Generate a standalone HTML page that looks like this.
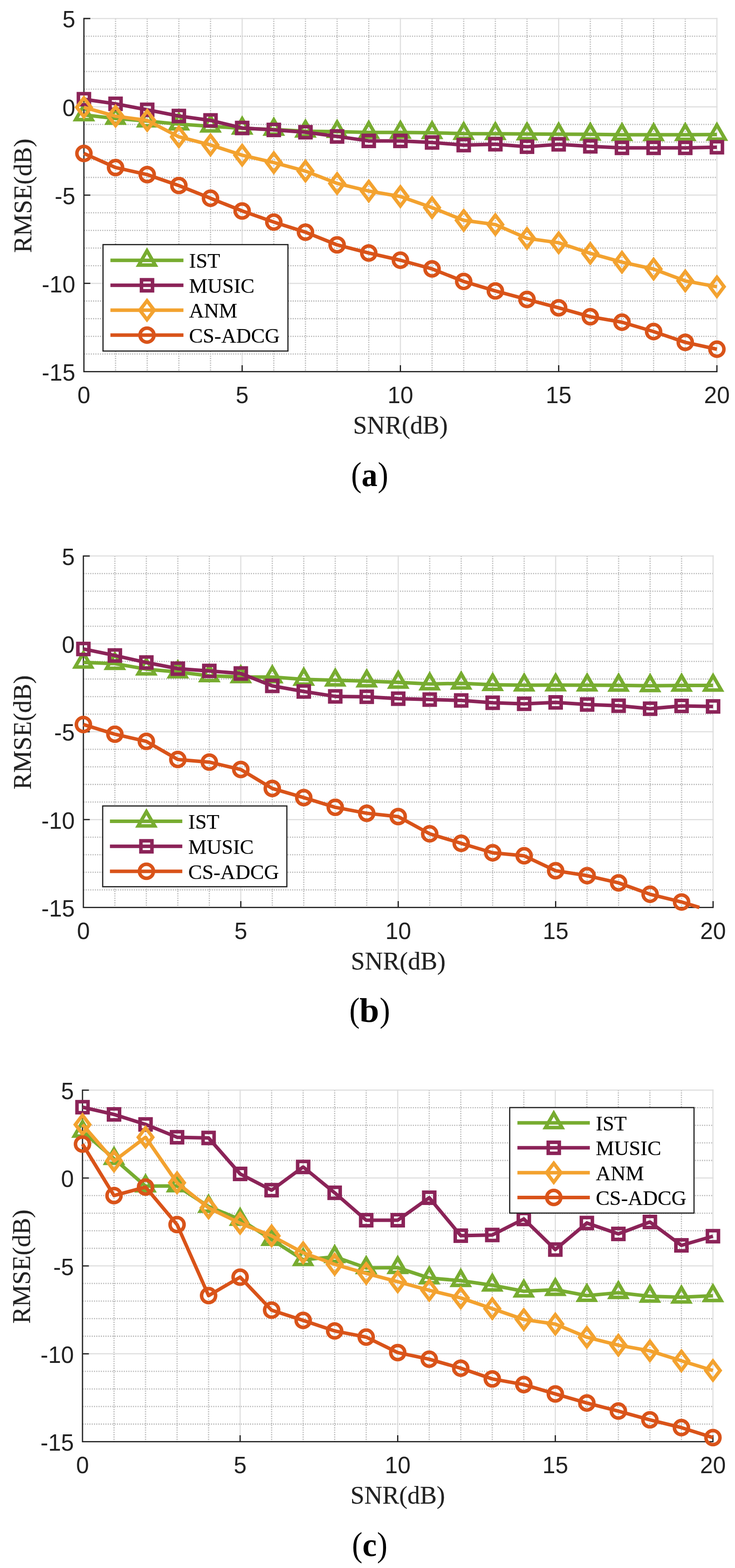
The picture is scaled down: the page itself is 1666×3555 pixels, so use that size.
<!DOCTYPE html>
<html lang="en"><head><meta charset="utf-8"><title>RMSE versus SNR</title>
<style>html,body{margin:0;padding:0;background:#fff}svg{display:block}.t{font-family:"Liberation Sans", sans-serif;font-size:52.5px;fill:#222222}.l{font-family:"Liberation Serif", serif;font-size:56.8px;fill:#222222;stroke:#222;stroke-width:.25px}.g{font-family:"Liberation Serif", serif;font-size:46.8px;fill:#000;stroke:#000;stroke-width:.2px}.c{font-family:"Liberation Serif", serif;font-size:80px;fill:#000}</style></head><body>
<svg width="1666" height="3555" viewBox="0 0 1666 3555">
<rect width="1666" height="3555" fill="#fff"/>
<g id="plot-a">
<path d="M261.94 42V842.6M333.68 42V842.6M405.42 42V842.6M477.16 42V842.6M620.64 42V842.6M692.38 42V842.6M764.12 42V842.6M835.86 42V842.6M979.34 42V842.6M1051.08 42V842.6M1122.82 42V842.6M1194.56 42V842.6M1338.04 42V842.6M1409.78 42V842.6M1481.52 42V842.6M1553.26 42V842.6M190.2 802.57H1625M190.2 762.54H1625M190.2 722.51H1625M190.2 682.48H1625M190.2 602.42H1625M190.2 562.39H1625M190.2 522.36H1625M190.2 482.33H1625M190.2 402.27H1625M190.2 362.24H1625M190.2 322.21H1625M190.2 282.18H1625M190.2 202.12H1625M190.2 162.09H1625M190.2 122.06H1625M190.2 82.03H1625" fill="none" stroke="#B8B8B8" stroke-width="2.8" stroke-dasharray="2.4 2.8"/>
<path d="M548.9 40.5V842.6M907.6 40.5V842.6M1266.3 40.5V842.6M1625 40.5V842.6M190.2 42H1626.5M190.2 242.15H1626.5M190.2 442.3H1626.5M190.2 642.45H1626.5" fill="none" stroke="#DEDEDE" stroke-width="2.5"/>
<path d="M190.2 40.6V842.6H1626.4M190.2 842.6V828.1M548.9 842.6V828.1M907.6 842.6V828.1M1266.3 842.6V828.1M1625 842.6V828.1M190.2 42H204.7M190.2 242.15H204.7M190.2 442.3H204.7M190.2 642.45H204.7M190.2 842.6H204.7" fill="none" stroke="#222222" stroke-width="2.8" stroke-linejoin="miter"/>
<text class="t" transform="translate(190.2 914.1) scale(1 1.015)" text-anchor="middle">0</text>
<text class="t" transform="translate(548.9 914.1) scale(1 1.015)" text-anchor="middle">5</text>
<text class="t" transform="translate(907.6 914.1) scale(1 1.015)" text-anchor="middle">10</text>
<text class="t" transform="translate(1266.3 914.1) scale(1 1.015)" text-anchor="middle">15</text>
<text class="t" transform="translate(1625 914.1) scale(1 1.015)" text-anchor="middle">20</text>
<text class="t" transform="translate(170.7 62.4) scale(1 1.015)" text-anchor="end">5</text>
<text class="t" transform="translate(170.7 262.55) scale(1 1.015)" text-anchor="end">0</text>
<text class="t" transform="translate(170.7 462.7) scale(1 1.015)" text-anchor="end">-5</text>
<text class="t" transform="translate(170.7 662.85) scale(1 1.015)" text-anchor="end">-10</text>
<text class="t" transform="translate(170.7 863) scale(1 1.015)" text-anchor="end">-15</text>
<text class="l" x="907.6" y="983.3" text-anchor="middle">SNR(dB)</text>
<text class="l" transform="translate(70.9 443.8) rotate(-90)" text-anchor="middle">RMSE(dB)</text>
<g>
<polyline points="190.2,260.56 261.94,268.57 333.68,274.57 405.42,281.38 477.16,286.18 548.9,290.99 620.64,293.39 692.38,297.59 764.12,298.39 835.86,300.19 907.6,300.19 979.34,300.99 1051.08,303 1122.82,303.2 1194.56,303.8 1266.3,304.2 1338.04,304.6 1409.78,305.4 1481.52,305.6 1553.26,305.4 1625,305" fill="none" stroke="#77AC30" stroke-width="8" stroke-linejoin="round" stroke-linecap="butt"/>
<path d="M190.2 238.86L208.85 271.16L171.55 271.16Z" fill="none" stroke="#77AC30" stroke-width="8" stroke-linejoin="miter" stroke-miterlimit="10"/>
<path d="M261.94 246.87L280.59 279.17L243.29 279.17Z" fill="none" stroke="#77AC30" stroke-width="8" stroke-linejoin="miter" stroke-miterlimit="10"/>
<path d="M333.68 252.87L352.33 285.17L315.03 285.17Z" fill="none" stroke="#77AC30" stroke-width="8" stroke-linejoin="miter" stroke-miterlimit="10"/>
<path d="M405.42 259.68L424.07 291.98L386.77 291.98Z" fill="none" stroke="#77AC30" stroke-width="8" stroke-linejoin="miter" stroke-miterlimit="10"/>
<path d="M477.16 264.48L495.81 296.78L458.51 296.78Z" fill="none" stroke="#77AC30" stroke-width="8" stroke-linejoin="miter" stroke-miterlimit="10"/>
<path d="M548.9 269.29L567.55 301.59L530.25 301.59Z" fill="none" stroke="#77AC30" stroke-width="8" stroke-linejoin="miter" stroke-miterlimit="10"/>
<path d="M620.64 271.69L639.29 303.99L601.99 303.99Z" fill="none" stroke="#77AC30" stroke-width="8" stroke-linejoin="miter" stroke-miterlimit="10"/>
<path d="M692.38 275.89L711.03 308.19L673.73 308.19Z" fill="none" stroke="#77AC30" stroke-width="8" stroke-linejoin="miter" stroke-miterlimit="10"/>
<path d="M764.12 276.69L782.77 308.99L745.47 308.99Z" fill="none" stroke="#77AC30" stroke-width="8" stroke-linejoin="miter" stroke-miterlimit="10"/>
<path d="M835.86 278.49L854.51 310.79L817.21 310.79Z" fill="none" stroke="#77AC30" stroke-width="8" stroke-linejoin="miter" stroke-miterlimit="10"/>
<path d="M907.6 278.49L926.25 310.79L888.95 310.79Z" fill="none" stroke="#77AC30" stroke-width="8" stroke-linejoin="miter" stroke-miterlimit="10"/>
<path d="M979.34 279.29L997.99 311.59L960.69 311.59Z" fill="none" stroke="#77AC30" stroke-width="8" stroke-linejoin="miter" stroke-miterlimit="10"/>
<path d="M1051.08 281.3L1069.73 313.6L1032.43 313.6Z" fill="none" stroke="#77AC30" stroke-width="8" stroke-linejoin="miter" stroke-miterlimit="10"/>
<path d="M1122.82 281.5L1141.47 313.8L1104.17 313.8Z" fill="none" stroke="#77AC30" stroke-width="8" stroke-linejoin="miter" stroke-miterlimit="10"/>
<path d="M1194.56 282.1L1213.21 314.4L1175.91 314.4Z" fill="none" stroke="#77AC30" stroke-width="8" stroke-linejoin="miter" stroke-miterlimit="10"/>
<path d="M1266.3 282.5L1284.95 314.8L1247.65 314.8Z" fill="none" stroke="#77AC30" stroke-width="8" stroke-linejoin="miter" stroke-miterlimit="10"/>
<path d="M1338.04 282.9L1356.69 315.2L1319.39 315.2Z" fill="none" stroke="#77AC30" stroke-width="8" stroke-linejoin="miter" stroke-miterlimit="10"/>
<path d="M1409.78 283.7L1428.43 316L1391.13 316Z" fill="none" stroke="#77AC30" stroke-width="8" stroke-linejoin="miter" stroke-miterlimit="10"/>
<path d="M1481.52 283.9L1500.17 316.2L1462.87 316.2Z" fill="none" stroke="#77AC30" stroke-width="8" stroke-linejoin="miter" stroke-miterlimit="10"/>
<path d="M1553.26 283.7L1571.91 316L1534.61 316Z" fill="none" stroke="#77AC30" stroke-width="8" stroke-linejoin="miter" stroke-miterlimit="10"/>
<path d="M1625 283.3L1643.65 315.6L1606.35 315.6Z" fill="none" stroke="#77AC30" stroke-width="8" stroke-linejoin="miter" stroke-miterlimit="10"/>
</g>
<g>
<polyline points="190.2,224.94 261.94,235.34 333.68,248.96 405.42,262.97 477.16,272.97 548.9,290.19 620.64,294.59 692.38,299.79 764.12,309.4 835.86,319.41 907.6,319.41 979.34,323.01 1051.08,329.02 1122.82,327.01 1194.56,332.62 1266.3,327.21 1338.04,331.82 1409.78,335.22 1481.52,335.22 1553.26,335.22 1625,333.82" fill="none" stroke="#8B2358" stroke-width="8" stroke-linejoin="round" stroke-linecap="butt"/>
<rect x="177.7" y="212.44" width="25" height="25" fill="none" stroke="#8B2358" stroke-width="8" stroke-linejoin="miter" stroke-miterlimit="10"/>
<rect x="249.44" y="222.84" width="25" height="25" fill="none" stroke="#8B2358" stroke-width="8" stroke-linejoin="miter" stroke-miterlimit="10"/>
<rect x="321.18" y="236.46" width="25" height="25" fill="none" stroke="#8B2358" stroke-width="8" stroke-linejoin="miter" stroke-miterlimit="10"/>
<rect x="392.92" y="250.47" width="25" height="25" fill="none" stroke="#8B2358" stroke-width="8" stroke-linejoin="miter" stroke-miterlimit="10"/>
<rect x="464.66" y="260.47" width="25" height="25" fill="none" stroke="#8B2358" stroke-width="8" stroke-linejoin="miter" stroke-miterlimit="10"/>
<rect x="536.4" y="277.69" width="25" height="25" fill="none" stroke="#8B2358" stroke-width="8" stroke-linejoin="miter" stroke-miterlimit="10"/>
<rect x="608.14" y="282.09" width="25" height="25" fill="none" stroke="#8B2358" stroke-width="8" stroke-linejoin="miter" stroke-miterlimit="10"/>
<rect x="679.88" y="287.29" width="25" height="25" fill="none" stroke="#8B2358" stroke-width="8" stroke-linejoin="miter" stroke-miterlimit="10"/>
<rect x="751.62" y="296.9" width="25" height="25" fill="none" stroke="#8B2358" stroke-width="8" stroke-linejoin="miter" stroke-miterlimit="10"/>
<rect x="823.36" y="306.91" width="25" height="25" fill="none" stroke="#8B2358" stroke-width="8" stroke-linejoin="miter" stroke-miterlimit="10"/>
<rect x="895.1" y="306.91" width="25" height="25" fill="none" stroke="#8B2358" stroke-width="8" stroke-linejoin="miter" stroke-miterlimit="10"/>
<rect x="966.84" y="310.51" width="25" height="25" fill="none" stroke="#8B2358" stroke-width="8" stroke-linejoin="miter" stroke-miterlimit="10"/>
<rect x="1038.58" y="316.52" width="25" height="25" fill="none" stroke="#8B2358" stroke-width="8" stroke-linejoin="miter" stroke-miterlimit="10"/>
<rect x="1110.32" y="314.51" width="25" height="25" fill="none" stroke="#8B2358" stroke-width="8" stroke-linejoin="miter" stroke-miterlimit="10"/>
<rect x="1182.06" y="320.12" width="25" height="25" fill="none" stroke="#8B2358" stroke-width="8" stroke-linejoin="miter" stroke-miterlimit="10"/>
<rect x="1253.8" y="314.71" width="25" height="25" fill="none" stroke="#8B2358" stroke-width="8" stroke-linejoin="miter" stroke-miterlimit="10"/>
<rect x="1325.54" y="319.32" width="25" height="25" fill="none" stroke="#8B2358" stroke-width="8" stroke-linejoin="miter" stroke-miterlimit="10"/>
<rect x="1397.28" y="322.72" width="25" height="25" fill="none" stroke="#8B2358" stroke-width="8" stroke-linejoin="miter" stroke-miterlimit="10"/>
<rect x="1469.02" y="322.72" width="25" height="25" fill="none" stroke="#8B2358" stroke-width="8" stroke-linejoin="miter" stroke-miterlimit="10"/>
<rect x="1540.76" y="322.72" width="25" height="25" fill="none" stroke="#8B2358" stroke-width="8" stroke-linejoin="miter" stroke-miterlimit="10"/>
<rect x="1612.5" y="321.32" width="25" height="25" fill="none" stroke="#8B2358" stroke-width="8" stroke-linejoin="miter" stroke-miterlimit="10"/>
</g>
<g>
<polyline points="190.2,243.35 261.94,263.37 333.68,272.97 405.42,310.2 477.16,328.61 548.9,351.83 620.64,368.64 692.38,387.86 764.12,415.88 835.86,433.09 907.6,445.5 979.34,470.72 1051.08,499.54 1122.82,509.15 1194.56,540.37 1266.3,550.38 1338.04,574.4 1409.78,594.41 1481.52,610.03 1553.26,636.85 1625,650.06" fill="none" stroke="#F3A22F" stroke-width="8" stroke-linejoin="round" stroke-linecap="butt"/>
<path d="M190.2 222.05L206.4 243.35L190.2 264.65L174 243.35Z" fill="none" stroke="#F3A22F" stroke-width="8" stroke-linejoin="miter" stroke-miterlimit="10"/>
<path d="M261.94 242.07L278.14 263.37L261.94 284.67L245.74 263.37Z" fill="none" stroke="#F3A22F" stroke-width="8" stroke-linejoin="miter" stroke-miterlimit="10"/>
<path d="M333.68 251.67L349.88 272.97L333.68 294.27L317.48 272.97Z" fill="none" stroke="#F3A22F" stroke-width="8" stroke-linejoin="miter" stroke-miterlimit="10"/>
<path d="M405.42 288.9L421.62 310.2L405.42 331.5L389.22 310.2Z" fill="none" stroke="#F3A22F" stroke-width="8" stroke-linejoin="miter" stroke-miterlimit="10"/>
<path d="M477.16 307.31L493.36 328.61L477.16 349.91L460.96 328.61Z" fill="none" stroke="#F3A22F" stroke-width="8" stroke-linejoin="miter" stroke-miterlimit="10"/>
<path d="M548.9 330.53L565.1 351.83L548.9 373.13L532.7 351.83Z" fill="none" stroke="#F3A22F" stroke-width="8" stroke-linejoin="miter" stroke-miterlimit="10"/>
<path d="M620.64 347.34L636.84 368.64L620.64 389.94L604.44 368.64Z" fill="none" stroke="#F3A22F" stroke-width="8" stroke-linejoin="miter" stroke-miterlimit="10"/>
<path d="M692.38 366.56L708.58 387.86L692.38 409.16L676.18 387.86Z" fill="none" stroke="#F3A22F" stroke-width="8" stroke-linejoin="miter" stroke-miterlimit="10"/>
<path d="M764.12 394.58L780.32 415.88L764.12 437.18L747.92 415.88Z" fill="none" stroke="#F3A22F" stroke-width="8" stroke-linejoin="miter" stroke-miterlimit="10"/>
<path d="M835.86 411.79L852.06 433.09L835.86 454.39L819.66 433.09Z" fill="none" stroke="#F3A22F" stroke-width="8" stroke-linejoin="miter" stroke-miterlimit="10"/>
<path d="M907.6 424.2L923.8 445.5L907.6 466.8L891.4 445.5Z" fill="none" stroke="#F3A22F" stroke-width="8" stroke-linejoin="miter" stroke-miterlimit="10"/>
<path d="M979.34 449.42L995.54 470.72L979.34 492.02L963.14 470.72Z" fill="none" stroke="#F3A22F" stroke-width="8" stroke-linejoin="miter" stroke-miterlimit="10"/>
<path d="M1051.08 478.24L1067.28 499.54L1051.08 520.84L1034.88 499.54Z" fill="none" stroke="#F3A22F" stroke-width="8" stroke-linejoin="miter" stroke-miterlimit="10"/>
<path d="M1122.82 487.85L1139.02 509.15L1122.82 530.45L1106.62 509.15Z" fill="none" stroke="#F3A22F" stroke-width="8" stroke-linejoin="miter" stroke-miterlimit="10"/>
<path d="M1194.56 519.07L1210.76 540.37L1194.56 561.67L1178.36 540.37Z" fill="none" stroke="#F3A22F" stroke-width="8" stroke-linejoin="miter" stroke-miterlimit="10"/>
<path d="M1266.3 529.08L1282.5 550.38L1266.3 571.68L1250.1 550.38Z" fill="none" stroke="#F3A22F" stroke-width="8" stroke-linejoin="miter" stroke-miterlimit="10"/>
<path d="M1338.04 553.1L1354.24 574.4L1338.04 595.7L1321.84 574.4Z" fill="none" stroke="#F3A22F" stroke-width="8" stroke-linejoin="miter" stroke-miterlimit="10"/>
<path d="M1409.78 573.11L1425.98 594.41L1409.78 615.71L1393.58 594.41Z" fill="none" stroke="#F3A22F" stroke-width="8" stroke-linejoin="miter" stroke-miterlimit="10"/>
<path d="M1481.52 588.73L1497.72 610.03L1481.52 631.33L1465.32 610.03Z" fill="none" stroke="#F3A22F" stroke-width="8" stroke-linejoin="miter" stroke-miterlimit="10"/>
<path d="M1553.26 615.55L1569.46 636.85L1553.26 658.15L1537.06 636.85Z" fill="none" stroke="#F3A22F" stroke-width="8" stroke-linejoin="miter" stroke-miterlimit="10"/>
<path d="M1625 628.76L1641.2 650.06L1625 671.36L1608.8 650.06Z" fill="none" stroke="#F3A22F" stroke-width="8" stroke-linejoin="miter" stroke-miterlimit="10"/>
</g>
<g>
<polyline points="190.2,347.83 261.94,379.85 333.68,395.87 405.42,420.68 477.16,449.51 548.9,478.33 620.64,503.55 692.38,526.36 764.12,555.18 835.86,573.6 907.6,590.01 979.34,609.63 1051.08,638.05 1122.82,659.66 1194.56,678.88 1266.3,697.89 1338.04,718.11 1409.78,730.52 1481.52,751.73 1553.26,776.15 1625,791.76" fill="none" stroke="#D95319" stroke-width="8" stroke-linejoin="round" stroke-linecap="butt"/>
<circle cx="190.2" cy="347.83" r="15.9" fill="none" stroke="#D95319" stroke-width="8" stroke-linejoin="miter" stroke-miterlimit="10"/>
<circle cx="261.94" cy="379.85" r="15.9" fill="none" stroke="#D95319" stroke-width="8" stroke-linejoin="miter" stroke-miterlimit="10"/>
<circle cx="333.68" cy="395.87" r="15.9" fill="none" stroke="#D95319" stroke-width="8" stroke-linejoin="miter" stroke-miterlimit="10"/>
<circle cx="405.42" cy="420.68" r="15.9" fill="none" stroke="#D95319" stroke-width="8" stroke-linejoin="miter" stroke-miterlimit="10"/>
<circle cx="477.16" cy="449.51" r="15.9" fill="none" stroke="#D95319" stroke-width="8" stroke-linejoin="miter" stroke-miterlimit="10"/>
<circle cx="548.9" cy="478.33" r="15.9" fill="none" stroke="#D95319" stroke-width="8" stroke-linejoin="miter" stroke-miterlimit="10"/>
<circle cx="620.64" cy="503.55" r="15.9" fill="none" stroke="#D95319" stroke-width="8" stroke-linejoin="miter" stroke-miterlimit="10"/>
<circle cx="692.38" cy="526.36" r="15.9" fill="none" stroke="#D95319" stroke-width="8" stroke-linejoin="miter" stroke-miterlimit="10"/>
<circle cx="764.12" cy="555.18" r="15.9" fill="none" stroke="#D95319" stroke-width="8" stroke-linejoin="miter" stroke-miterlimit="10"/>
<circle cx="835.86" cy="573.6" r="15.9" fill="none" stroke="#D95319" stroke-width="8" stroke-linejoin="miter" stroke-miterlimit="10"/>
<circle cx="907.6" cy="590.01" r="15.9" fill="none" stroke="#D95319" stroke-width="8" stroke-linejoin="miter" stroke-miterlimit="10"/>
<circle cx="979.34" cy="609.63" r="15.9" fill="none" stroke="#D95319" stroke-width="8" stroke-linejoin="miter" stroke-miterlimit="10"/>
<circle cx="1051.08" cy="638.05" r="15.9" fill="none" stroke="#D95319" stroke-width="8" stroke-linejoin="miter" stroke-miterlimit="10"/>
<circle cx="1122.82" cy="659.66" r="15.9" fill="none" stroke="#D95319" stroke-width="8" stroke-linejoin="miter" stroke-miterlimit="10"/>
<circle cx="1194.56" cy="678.88" r="15.9" fill="none" stroke="#D95319" stroke-width="8" stroke-linejoin="miter" stroke-miterlimit="10"/>
<circle cx="1266.3" cy="697.89" r="15.9" fill="none" stroke="#D95319" stroke-width="8" stroke-linejoin="miter" stroke-miterlimit="10"/>
<circle cx="1338.04" cy="718.11" r="15.9" fill="none" stroke="#D95319" stroke-width="8" stroke-linejoin="miter" stroke-miterlimit="10"/>
<circle cx="1409.78" cy="730.52" r="15.9" fill="none" stroke="#D95319" stroke-width="8" stroke-linejoin="miter" stroke-miterlimit="10"/>
<circle cx="1481.52" cy="751.73" r="15.9" fill="none" stroke="#D95319" stroke-width="8" stroke-linejoin="miter" stroke-miterlimit="10"/>
<circle cx="1553.26" cy="776.15" r="15.9" fill="none" stroke="#D95319" stroke-width="8" stroke-linejoin="miter" stroke-miterlimit="10"/>
<circle cx="1625" cy="791.76" r="15.9" fill="none" stroke="#D95319" stroke-width="8" stroke-linejoin="miter" stroke-miterlimit="10"/>
</g>
<g>
<rect x="233.5" y="554.6" width="419.2" height="241.3" fill="#fff" stroke="#222222" stroke-width="2.7"/>
<path d="M250.3 590.3H415.8" stroke="#77AC30" stroke-width="8" fill="none"/>
<path d="M333.2 568.6L351.85 600.9L314.55 600.9Z" fill="none" stroke="#77AC30" stroke-width="8" stroke-linejoin="miter" stroke-miterlimit="10"/>
<text class="g" x="428.6" y="607.4">IST</text>
<path d="M250.3 646.8H415.8" stroke="#8B2358" stroke-width="8" fill="none"/>
<rect x="320.7" y="634.3" width="25" height="25" fill="none" stroke="#8B2358" stroke-width="8" stroke-linejoin="miter" stroke-miterlimit="10"/>
<text class="g" x="428.6" y="663.9">MUSIC</text>
<path d="M250.3 703.3H415.8" stroke="#F3A22F" stroke-width="8" fill="none"/>
<path d="M333.2 682L349.4 703.3L333.2 724.6L317 703.3Z" fill="none" stroke="#F3A22F" stroke-width="8" stroke-linejoin="miter" stroke-miterlimit="10"/>
<text class="g" x="428.6" y="720.4">ANM</text>
<path d="M250.3 759.8H415.8" stroke="#D95319" stroke-width="8" fill="none"/>
<circle cx="333.2" cy="759.8" r="15.9" fill="none" stroke="#D95319" stroke-width="8" stroke-linejoin="miter" stroke-miterlimit="10"/>
<text class="g" x="428.6" y="776.9">CS-ADCG</text>
</g>
<text class="c"><tspan x="795.8" y="1101.7" font-size="77.6px" font-weight="normal" textLength="23.87" lengthAdjust="spacingAndGlyphs">(</tspan><tspan x="819.5" y="1102.35" font-size="75.21px" font-weight="bold" textLength="36.11" lengthAdjust="spacingAndGlyphs">a</tspan><tspan x="856.31" y="1101.7" font-size="77.6px" font-weight="normal" textLength="23.87" lengthAdjust="spacingAndGlyphs">)</tspan></text>
</g>
<g id="plot-b">
<path d="M260.37 1260.6V2057.4M331.73 1260.6V2057.4M403.09 1260.6V2057.4M474.46 1260.6V2057.4M617.19 1260.6V2057.4M688.55 1260.6V2057.4M759.92 1260.6V2057.4M831.28 1260.6V2057.4M974.01 1260.6V2057.4M1045.38 1260.6V2057.4M1116.74 1260.6V2057.4M1188.11 1260.6V2057.4M1330.84 1260.6V2057.4M1402.2 1260.6V2057.4M1473.57 1260.6V2057.4M1544.93 1260.6V2057.4M189 2017.56H1616.3M189 1977.72H1616.3M189 1937.88H1616.3M189 1898.04H1616.3M189 1818.36H1616.3M189 1778.52H1616.3M189 1738.68H1616.3M189 1698.84H1616.3M189 1619.16H1616.3M189 1579.32H1616.3M189 1539.48H1616.3M189 1499.64H1616.3M189 1419.96H1616.3M189 1380.12H1616.3M189 1340.28H1616.3M189 1300.44H1616.3" fill="none" stroke="#B8B8B8" stroke-width="2.8" stroke-dasharray="2.4 2.8"/>
<path d="M545.83 1259.1V2057.4M902.65 1259.1V2057.4M1259.47 1259.1V2057.4M1616.3 1259.1V2057.4M189 1260.6H1617.8M189 1459.8H1617.8M189 1659H1617.8M189 1858.2H1617.8" fill="none" stroke="#DEDEDE" stroke-width="2.5"/>
<path d="M189 1259.2V2057.4H1617.7M189 2057.4V2042.9M545.83 2057.4V2042.9M902.65 2057.4V2042.9M1259.47 2057.4V2042.9M1616.3 2057.4V2042.9M189 1260.6H203.5M189 1459.8H203.5M189 1659H203.5M189 1858.2H203.5M189 2057.4H203.5" fill="none" stroke="#222222" stroke-width="2.8" stroke-linejoin="miter"/>
<text class="t" transform="translate(189 2128.9) scale(1 1.015)" text-anchor="middle">0</text>
<text class="t" transform="translate(545.83 2128.9) scale(1 1.015)" text-anchor="middle">5</text>
<text class="t" transform="translate(902.65 2128.9) scale(1 1.015)" text-anchor="middle">10</text>
<text class="t" transform="translate(1259.47 2128.9) scale(1 1.015)" text-anchor="middle">15</text>
<text class="t" transform="translate(1616.3 2128.9) scale(1 1.015)" text-anchor="middle">20</text>
<text class="t" transform="translate(169.5 1281) scale(1 1.015)" text-anchor="end">5</text>
<text class="t" transform="translate(169.5 1480.2) scale(1 1.015)" text-anchor="end">0</text>
<text class="t" transform="translate(169.5 1679.4) scale(1 1.015)" text-anchor="end">-5</text>
<text class="t" transform="translate(169.5 1878.6) scale(1 1.015)" text-anchor="end">-10</text>
<text class="t" transform="translate(169.5 2077.8) scale(1 1.015)" text-anchor="end">-15</text>
<text class="l" x="902.65" y="2198.1" text-anchor="middle">SNR(dB)</text>
<text class="l" transform="translate(69.7 1660.5) rotate(-90)" text-anchor="middle">RMSE(dB)</text>
<g>
<polyline points="189,1501.63 260.37,1504.62 331.73,1517.17 403.09,1523.54 474.46,1532.31 545.83,1534.7 617.19,1534.9 688.55,1540.28 759.92,1542.27 831.28,1544.26 902.65,1547.05 974.01,1550.83 1045.38,1549.24 1116.74,1552.43 1188.11,1553.42 1259.47,1553.22 1330.84,1553.42 1402.2,1553.82 1473.57,1554.82 1544.93,1554.02 1616.3,1554.02" fill="none" stroke="#77AC30" stroke-width="8" stroke-linejoin="round" stroke-linecap="butt"/>
<path d="M189 1479.93L207.65 1512.23L170.35 1512.23Z" fill="none" stroke="#77AC30" stroke-width="8" stroke-linejoin="miter" stroke-miterlimit="10"/>
<path d="M260.37 1482.92L279.01 1515.22L241.72 1515.22Z" fill="none" stroke="#77AC30" stroke-width="8" stroke-linejoin="miter" stroke-miterlimit="10"/>
<path d="M331.73 1495.47L350.38 1527.77L313.08 1527.77Z" fill="none" stroke="#77AC30" stroke-width="8" stroke-linejoin="miter" stroke-miterlimit="10"/>
<path d="M403.09 1501.84L421.74 1534.14L384.44 1534.14Z" fill="none" stroke="#77AC30" stroke-width="8" stroke-linejoin="miter" stroke-miterlimit="10"/>
<path d="M474.46 1510.61L493.11 1542.91L455.81 1542.91Z" fill="none" stroke="#77AC30" stroke-width="8" stroke-linejoin="miter" stroke-miterlimit="10"/>
<path d="M545.83 1513L564.48 1545.3L527.18 1545.3Z" fill="none" stroke="#77AC30" stroke-width="8" stroke-linejoin="miter" stroke-miterlimit="10"/>
<path d="M617.19 1513.2L635.84 1545.5L598.54 1545.5Z" fill="none" stroke="#77AC30" stroke-width="8" stroke-linejoin="miter" stroke-miterlimit="10"/>
<path d="M688.55 1518.58L707.2 1550.88L669.9 1550.88Z" fill="none" stroke="#77AC30" stroke-width="8" stroke-linejoin="miter" stroke-miterlimit="10"/>
<path d="M759.92 1520.57L778.57 1552.87L741.27 1552.87Z" fill="none" stroke="#77AC30" stroke-width="8" stroke-linejoin="miter" stroke-miterlimit="10"/>
<path d="M831.28 1522.56L849.93 1554.86L812.63 1554.86Z" fill="none" stroke="#77AC30" stroke-width="8" stroke-linejoin="miter" stroke-miterlimit="10"/>
<path d="M902.65 1525.35L921.3 1557.65L884 1557.65Z" fill="none" stroke="#77AC30" stroke-width="8" stroke-linejoin="miter" stroke-miterlimit="10"/>
<path d="M974.01 1529.13L992.66 1561.43L955.37 1561.43Z" fill="none" stroke="#77AC30" stroke-width="8" stroke-linejoin="miter" stroke-miterlimit="10"/>
<path d="M1045.38 1527.54L1064.03 1559.84L1026.73 1559.84Z" fill="none" stroke="#77AC30" stroke-width="8" stroke-linejoin="miter" stroke-miterlimit="10"/>
<path d="M1116.74 1530.73L1135.39 1563.03L1098.09 1563.03Z" fill="none" stroke="#77AC30" stroke-width="8" stroke-linejoin="miter" stroke-miterlimit="10"/>
<path d="M1188.11 1531.72L1206.76 1564.02L1169.46 1564.02Z" fill="none" stroke="#77AC30" stroke-width="8" stroke-linejoin="miter" stroke-miterlimit="10"/>
<path d="M1259.47 1531.52L1278.12 1563.82L1240.82 1563.82Z" fill="none" stroke="#77AC30" stroke-width="8" stroke-linejoin="miter" stroke-miterlimit="10"/>
<path d="M1330.84 1531.72L1349.49 1564.02L1312.19 1564.02Z" fill="none" stroke="#77AC30" stroke-width="8" stroke-linejoin="miter" stroke-miterlimit="10"/>
<path d="M1402.2 1532.12L1420.86 1564.42L1383.55 1564.42Z" fill="none" stroke="#77AC30" stroke-width="8" stroke-linejoin="miter" stroke-miterlimit="10"/>
<path d="M1473.57 1533.12L1492.22 1565.42L1454.92 1565.42Z" fill="none" stroke="#77AC30" stroke-width="8" stroke-linejoin="miter" stroke-miterlimit="10"/>
<path d="M1544.93 1532.32L1563.59 1564.62L1526.28 1564.62Z" fill="none" stroke="#77AC30" stroke-width="8" stroke-linejoin="miter" stroke-miterlimit="10"/>
<path d="M1616.3 1532.32L1634.95 1564.62L1597.65 1564.62Z" fill="none" stroke="#77AC30" stroke-width="8" stroke-linejoin="miter" stroke-miterlimit="10"/>
</g>
<g>
<polyline points="189,1471.35 260.37,1486.09 331.73,1502.03 403.09,1515.97 474.46,1521.15 545.83,1526.93 617.19,1555.02 688.55,1567.77 759.92,1578.92 831.28,1579.72 902.65,1584.1 974.01,1586.09 1045.38,1588.08 1116.74,1593.26 1188.11,1595.65 1259.47,1592.47 1330.84,1597.25 1402.2,1600.04 1473.57,1606.81 1544.93,1600.44 1616.3,1601.63" fill="none" stroke="#8B2358" stroke-width="8" stroke-linejoin="round" stroke-linecap="butt"/>
<rect x="176.5" y="1458.85" width="25" height="25" fill="none" stroke="#8B2358" stroke-width="8" stroke-linejoin="miter" stroke-miterlimit="10"/>
<rect x="247.87" y="1473.59" width="25" height="25" fill="none" stroke="#8B2358" stroke-width="8" stroke-linejoin="miter" stroke-miterlimit="10"/>
<rect x="319.23" y="1489.53" width="25" height="25" fill="none" stroke="#8B2358" stroke-width="8" stroke-linejoin="miter" stroke-miterlimit="10"/>
<rect x="390.59" y="1503.47" width="25" height="25" fill="none" stroke="#8B2358" stroke-width="8" stroke-linejoin="miter" stroke-miterlimit="10"/>
<rect x="461.96" y="1508.65" width="25" height="25" fill="none" stroke="#8B2358" stroke-width="8" stroke-linejoin="miter" stroke-miterlimit="10"/>
<rect x="533.33" y="1514.43" width="25" height="25" fill="none" stroke="#8B2358" stroke-width="8" stroke-linejoin="miter" stroke-miterlimit="10"/>
<rect x="604.69" y="1542.52" width="25" height="25" fill="none" stroke="#8B2358" stroke-width="8" stroke-linejoin="miter" stroke-miterlimit="10"/>
<rect x="676.05" y="1555.27" width="25" height="25" fill="none" stroke="#8B2358" stroke-width="8" stroke-linejoin="miter" stroke-miterlimit="10"/>
<rect x="747.42" y="1566.42" width="25" height="25" fill="none" stroke="#8B2358" stroke-width="8" stroke-linejoin="miter" stroke-miterlimit="10"/>
<rect x="818.78" y="1567.22" width="25" height="25" fill="none" stroke="#8B2358" stroke-width="8" stroke-linejoin="miter" stroke-miterlimit="10"/>
<rect x="890.15" y="1571.6" width="25" height="25" fill="none" stroke="#8B2358" stroke-width="8" stroke-linejoin="miter" stroke-miterlimit="10"/>
<rect x="961.51" y="1573.59" width="25" height="25" fill="none" stroke="#8B2358" stroke-width="8" stroke-linejoin="miter" stroke-miterlimit="10"/>
<rect x="1032.88" y="1575.58" width="25" height="25" fill="none" stroke="#8B2358" stroke-width="8" stroke-linejoin="miter" stroke-miterlimit="10"/>
<rect x="1104.24" y="1580.76" width="25" height="25" fill="none" stroke="#8B2358" stroke-width="8" stroke-linejoin="miter" stroke-miterlimit="10"/>
<rect x="1175.61" y="1583.15" width="25" height="25" fill="none" stroke="#8B2358" stroke-width="8" stroke-linejoin="miter" stroke-miterlimit="10"/>
<rect x="1246.97" y="1579.97" width="25" height="25" fill="none" stroke="#8B2358" stroke-width="8" stroke-linejoin="miter" stroke-miterlimit="10"/>
<rect x="1318.34" y="1584.75" width="25" height="25" fill="none" stroke="#8B2358" stroke-width="8" stroke-linejoin="miter" stroke-miterlimit="10"/>
<rect x="1389.7" y="1587.54" width="25" height="25" fill="none" stroke="#8B2358" stroke-width="8" stroke-linejoin="miter" stroke-miterlimit="10"/>
<rect x="1461.07" y="1594.31" width="25" height="25" fill="none" stroke="#8B2358" stroke-width="8" stroke-linejoin="miter" stroke-miterlimit="10"/>
<rect x="1532.43" y="1587.94" width="25" height="25" fill="none" stroke="#8B2358" stroke-width="8" stroke-linejoin="miter" stroke-miterlimit="10"/>
<rect x="1603.8" y="1589.13" width="25" height="25" fill="none" stroke="#8B2358" stroke-width="8" stroke-linejoin="miter" stroke-miterlimit="10"/>
</g>
<g>
<polyline points="189,1642.67 260.37,1664.58 331.73,1680.91 403.09,1721.95 474.46,1727.92 545.83,1744.66 617.19,1787.68 688.55,1808.4 759.92,1830.31 831.28,1843.86 902.65,1851.43 974.01,1890.47 1045.38,1911.98 1116.74,1933.5 1188.11,1940.27 1259.47,1974.13 1330.84,1985.29 1402.2,2001.62 1473.57,2027.52 1544.93,2045.05 1585.16,2057.4" fill="none" stroke="#D95319" stroke-width="8" stroke-linejoin="round" stroke-linecap="butt"/>
<circle cx="189" cy="1642.67" r="15.9" fill="none" stroke="#D95319" stroke-width="8" stroke-linejoin="miter" stroke-miterlimit="10"/>
<circle cx="260.37" cy="1664.58" r="15.9" fill="none" stroke="#D95319" stroke-width="8" stroke-linejoin="miter" stroke-miterlimit="10"/>
<circle cx="331.73" cy="1680.91" r="15.9" fill="none" stroke="#D95319" stroke-width="8" stroke-linejoin="miter" stroke-miterlimit="10"/>
<circle cx="403.09" cy="1721.95" r="15.9" fill="none" stroke="#D95319" stroke-width="8" stroke-linejoin="miter" stroke-miterlimit="10"/>
<circle cx="474.46" cy="1727.92" r="15.9" fill="none" stroke="#D95319" stroke-width="8" stroke-linejoin="miter" stroke-miterlimit="10"/>
<circle cx="545.83" cy="1744.66" r="15.9" fill="none" stroke="#D95319" stroke-width="8" stroke-linejoin="miter" stroke-miterlimit="10"/>
<circle cx="617.19" cy="1787.68" r="15.9" fill="none" stroke="#D95319" stroke-width="8" stroke-linejoin="miter" stroke-miterlimit="10"/>
<circle cx="688.55" cy="1808.4" r="15.9" fill="none" stroke="#D95319" stroke-width="8" stroke-linejoin="miter" stroke-miterlimit="10"/>
<circle cx="759.92" cy="1830.31" r="15.9" fill="none" stroke="#D95319" stroke-width="8" stroke-linejoin="miter" stroke-miterlimit="10"/>
<circle cx="831.28" cy="1843.86" r="15.9" fill="none" stroke="#D95319" stroke-width="8" stroke-linejoin="miter" stroke-miterlimit="10"/>
<circle cx="902.65" cy="1851.43" r="15.9" fill="none" stroke="#D95319" stroke-width="8" stroke-linejoin="miter" stroke-miterlimit="10"/>
<circle cx="974.01" cy="1890.47" r="15.9" fill="none" stroke="#D95319" stroke-width="8" stroke-linejoin="miter" stroke-miterlimit="10"/>
<circle cx="1045.38" cy="1911.98" r="15.9" fill="none" stroke="#D95319" stroke-width="8" stroke-linejoin="miter" stroke-miterlimit="10"/>
<circle cx="1116.74" cy="1933.5" r="15.9" fill="none" stroke="#D95319" stroke-width="8" stroke-linejoin="miter" stroke-miterlimit="10"/>
<circle cx="1188.11" cy="1940.27" r="15.9" fill="none" stroke="#D95319" stroke-width="8" stroke-linejoin="miter" stroke-miterlimit="10"/>
<circle cx="1259.47" cy="1974.13" r="15.9" fill="none" stroke="#D95319" stroke-width="8" stroke-linejoin="miter" stroke-miterlimit="10"/>
<circle cx="1330.84" cy="1985.29" r="15.9" fill="none" stroke="#D95319" stroke-width="8" stroke-linejoin="miter" stroke-miterlimit="10"/>
<circle cx="1402.2" cy="2001.62" r="15.9" fill="none" stroke="#D95319" stroke-width="8" stroke-linejoin="miter" stroke-miterlimit="10"/>
<circle cx="1473.57" cy="2027.52" r="15.9" fill="none" stroke="#D95319" stroke-width="8" stroke-linejoin="miter" stroke-miterlimit="10"/>
<circle cx="1544.93" cy="2045.05" r="15.9" fill="none" stroke="#D95319" stroke-width="8" stroke-linejoin="miter" stroke-miterlimit="10"/>
</g>
<g>
<rect x="232.8" y="1827.3" width="417.4" height="183.1" fill="#fff" stroke="#222222" stroke-width="2.7"/>
<path d="M249.2 1862H413.2" stroke="#77AC30" stroke-width="8" fill="none"/>
<path d="M331.9 1840.3L350.55 1872.6L313.25 1872.6Z" fill="none" stroke="#77AC30" stroke-width="8" stroke-linejoin="miter" stroke-miterlimit="10"/>
<text class="g" x="426.8" y="1879.1">IST</text>
<path d="M249.2 1918.8H413.2" stroke="#8B2358" stroke-width="8" fill="none"/>
<rect x="319.4" y="1906.3" width="25" height="25" fill="none" stroke="#8B2358" stroke-width="8" stroke-linejoin="miter" stroke-miterlimit="10"/>
<text class="g" x="426.8" y="1935.9">MUSIC</text>
<path d="M249.2 1975.4H413.2" stroke="#D95319" stroke-width="8" fill="none"/>
<circle cx="331.9" cy="1975.4" r="15.9" fill="none" stroke="#D95319" stroke-width="8" stroke-linejoin="miter" stroke-miterlimit="10"/>
<text class="g" x="426.8" y="1992.5">CS-ADCG</text>
</g>
<text class="c"><tspan x="791.83" y="2315.7" font-size="77.6px" font-weight="normal" textLength="23.61" lengthAdjust="spacingAndGlyphs">(</tspan><tspan x="814.73" y="2316.51" font-size="78.77px" font-weight="bold" textLength="44.62" lengthAdjust="spacingAndGlyphs">b</tspan><tspan x="860.43" y="2315.7" font-size="77.6px" font-weight="normal" textLength="23.74" lengthAdjust="spacingAndGlyphs">)</tspan></text>
</g>
<g id="plot-c">
<path d="M258.45 2471.6V3268.6M329.9 2471.6V3268.6M401.35 2471.6V3268.6M472.8 2471.6V3268.6M615.7 2471.6V3268.6M687.15 2471.6V3268.6M758.6 2471.6V3268.6M830.05 2471.6V3268.6M972.95 2471.6V3268.6M1044.4 2471.6V3268.6M1115.85 2471.6V3268.6M1187.3 2471.6V3268.6M1330.2 2471.6V3268.6M1401.65 2471.6V3268.6M1473.1 2471.6V3268.6M1544.55 2471.6V3268.6M187 3228.75H1616M187 3188.9H1616M187 3149.05H1616M187 3109.2H1616M187 3029.5H1616M187 2989.65H1616M187 2949.8H1616M187 2909.95H1616M187 2830.25H1616M187 2790.4H1616M187 2750.55H1616M187 2710.7H1616M187 2631H1616M187 2591.15H1616M187 2551.3H1616M187 2511.45H1616" fill="none" stroke="#B8B8B8" stroke-width="2.8" stroke-dasharray="2.4 2.8"/>
<path d="M544.25 2470.1V3268.6M901.5 2470.1V3268.6M1258.75 2470.1V3268.6M1616 2470.1V3268.6M187 2471.6H1617.5M187 2670.85H1617.5M187 2870.1H1617.5M187 3069.35H1617.5" fill="none" stroke="#DEDEDE" stroke-width="2.5"/>
<path d="M187 2470.2V3268.6H1617.4M187 3268.6V3254.1M544.25 3268.6V3254.1M901.5 3268.6V3254.1M1258.75 3268.6V3254.1M1616 3268.6V3254.1M187 2471.6H201.5M187 2670.85H201.5M187 2870.1H201.5M187 3069.35H201.5M187 3268.6H201.5" fill="none" stroke="#222222" stroke-width="2.8" stroke-linejoin="miter"/>
<text class="t" transform="translate(187 3340.1) scale(1 1.015)" text-anchor="middle">0</text>
<text class="t" transform="translate(544.25 3340.1) scale(1 1.015)" text-anchor="middle">5</text>
<text class="t" transform="translate(901.5 3340.1) scale(1 1.015)" text-anchor="middle">10</text>
<text class="t" transform="translate(1258.75 3340.1) scale(1 1.015)" text-anchor="middle">15</text>
<text class="t" transform="translate(1616 3340.1) scale(1 1.015)" text-anchor="middle">20</text>
<text class="t" transform="translate(167.5 2492) scale(1 1.015)" text-anchor="end">5</text>
<text class="t" transform="translate(167.5 2691.25) scale(1 1.015)" text-anchor="end">0</text>
<text class="t" transform="translate(167.5 2890.5) scale(1 1.015)" text-anchor="end">-5</text>
<text class="t" transform="translate(167.5 3089.75) scale(1 1.015)" text-anchor="end">-10</text>
<text class="t" transform="translate(167.5 3289) scale(1 1.015)" text-anchor="end">-15</text>
<text class="l" x="901.5" y="3409.3" text-anchor="middle">SNR(dB)</text>
<text class="l" transform="translate(67.7 2871.6) rotate(-90)" text-anchor="middle">RMSE(dB)</text>
<g>
<polyline points="187,2565.25 258.45,2627.01 329.9,2689.18 401.35,2688.78 472.8,2735.41 544.25,2764.9 615.7,2810.32 687.15,2856.15 758.6,2849.38 830.05,2874.48 901.5,2874.09 972.95,2897.6 1044.4,2903.57 1115.85,2913.93 1187.3,2927.48 1258.75,2923.9 1330.2,2937.45 1401.65,2930.87 1473.1,2939.04 1544.55,2941.03 1616,2937.84" fill="none" stroke="#77AC30" stroke-width="8" stroke-linejoin="round" stroke-linecap="butt"/>
<path d="M187 2543.55L205.65 2575.85L168.35 2575.85Z" fill="none" stroke="#77AC30" stroke-width="8" stroke-linejoin="miter" stroke-miterlimit="10"/>
<path d="M258.45 2605.32L277.1 2637.61L239.8 2637.61Z" fill="none" stroke="#77AC30" stroke-width="8" stroke-linejoin="miter" stroke-miterlimit="10"/>
<path d="M329.9 2667.48L348.55 2699.78L311.25 2699.78Z" fill="none" stroke="#77AC30" stroke-width="8" stroke-linejoin="miter" stroke-miterlimit="10"/>
<path d="M401.35 2667.08L420 2699.38L382.7 2699.38Z" fill="none" stroke="#77AC30" stroke-width="8" stroke-linejoin="miter" stroke-miterlimit="10"/>
<path d="M472.8 2713.71L491.45 2746.01L454.15 2746.01Z" fill="none" stroke="#77AC30" stroke-width="8" stroke-linejoin="miter" stroke-miterlimit="10"/>
<path d="M544.25 2743.2L562.9 2775.5L525.6 2775.5Z" fill="none" stroke="#77AC30" stroke-width="8" stroke-linejoin="miter" stroke-miterlimit="10"/>
<path d="M615.7 2788.62L634.35 2820.92L597.05 2820.92Z" fill="none" stroke="#77AC30" stroke-width="8" stroke-linejoin="miter" stroke-miterlimit="10"/>
<path d="M687.15 2834.45L705.8 2866.75L668.5 2866.75Z" fill="none" stroke="#77AC30" stroke-width="8" stroke-linejoin="miter" stroke-miterlimit="10"/>
<path d="M758.6 2827.68L777.25 2859.98L739.95 2859.98Z" fill="none" stroke="#77AC30" stroke-width="8" stroke-linejoin="miter" stroke-miterlimit="10"/>
<path d="M830.05 2852.78L848.7 2885.08L811.4 2885.08Z" fill="none" stroke="#77AC30" stroke-width="8" stroke-linejoin="miter" stroke-miterlimit="10"/>
<path d="M901.5 2852.39L920.15 2884.68L882.85 2884.68Z" fill="none" stroke="#77AC30" stroke-width="8" stroke-linejoin="miter" stroke-miterlimit="10"/>
<path d="M972.95 2875.9L991.6 2908.2L954.3 2908.2Z" fill="none" stroke="#77AC30" stroke-width="8" stroke-linejoin="miter" stroke-miterlimit="10"/>
<path d="M1044.4 2881.87L1063.05 2914.17L1025.75 2914.17Z" fill="none" stroke="#77AC30" stroke-width="8" stroke-linejoin="miter" stroke-miterlimit="10"/>
<path d="M1115.85 2892.24L1134.5 2924.53L1097.2 2924.53Z" fill="none" stroke="#77AC30" stroke-width="8" stroke-linejoin="miter" stroke-miterlimit="10"/>
<path d="M1187.3 2905.78L1205.95 2938.08L1168.65 2938.08Z" fill="none" stroke="#77AC30" stroke-width="8" stroke-linejoin="miter" stroke-miterlimit="10"/>
<path d="M1258.75 2902.2L1277.4 2934.5L1240.1 2934.5Z" fill="none" stroke="#77AC30" stroke-width="8" stroke-linejoin="miter" stroke-miterlimit="10"/>
<path d="M1330.2 2915.75L1348.85 2948.05L1311.55 2948.05Z" fill="none" stroke="#77AC30" stroke-width="8" stroke-linejoin="miter" stroke-miterlimit="10"/>
<path d="M1401.65 2909.17L1420.3 2941.47L1383 2941.47Z" fill="none" stroke="#77AC30" stroke-width="8" stroke-linejoin="miter" stroke-miterlimit="10"/>
<path d="M1473.1 2917.34L1491.75 2949.64L1454.45 2949.64Z" fill="none" stroke="#77AC30" stroke-width="8" stroke-linejoin="miter" stroke-miterlimit="10"/>
<path d="M1544.55 2919.33L1563.2 2951.63L1525.9 2951.63Z" fill="none" stroke="#77AC30" stroke-width="8" stroke-linejoin="miter" stroke-miterlimit="10"/>
<path d="M1616 2916.14L1634.65 2948.44L1597.35 2948.44Z" fill="none" stroke="#77AC30" stroke-width="8" stroke-linejoin="miter" stroke-miterlimit="10"/>
</g>
<g>
<polyline points="187,2510.25 258.45,2526.59 329.9,2549.31 401.35,2578.4 472.8,2579.99 544.25,2661.49 615.7,2698.35 687.15,2645.74 758.6,2704.32 830.05,2766.49 901.5,2766.49 972.95,2715.48 1044.4,2801.56 1115.85,2799.96 1187.3,2763.7 1258.75,2833.04 1330.2,2772.87 1401.65,2797.57 1473.1,2770.47 1544.55,2823.48 1616,2802.75" fill="none" stroke="#8B2358" stroke-width="8" stroke-linejoin="round" stroke-linecap="butt"/>
<rect x="174.5" y="2497.75" width="25" height="25" fill="none" stroke="#8B2358" stroke-width="8" stroke-linejoin="miter" stroke-miterlimit="10"/>
<rect x="245.95" y="2514.09" width="25" height="25" fill="none" stroke="#8B2358" stroke-width="8" stroke-linejoin="miter" stroke-miterlimit="10"/>
<rect x="317.4" y="2536.81" width="25" height="25" fill="none" stroke="#8B2358" stroke-width="8" stroke-linejoin="miter" stroke-miterlimit="10"/>
<rect x="388.85" y="2565.9" width="25" height="25" fill="none" stroke="#8B2358" stroke-width="8" stroke-linejoin="miter" stroke-miterlimit="10"/>
<rect x="460.3" y="2567.49" width="25" height="25" fill="none" stroke="#8B2358" stroke-width="8" stroke-linejoin="miter" stroke-miterlimit="10"/>
<rect x="531.75" y="2648.99" width="25" height="25" fill="none" stroke="#8B2358" stroke-width="8" stroke-linejoin="miter" stroke-miterlimit="10"/>
<rect x="603.2" y="2685.85" width="25" height="25" fill="none" stroke="#8B2358" stroke-width="8" stroke-linejoin="miter" stroke-miterlimit="10"/>
<rect x="674.65" y="2633.24" width="25" height="25" fill="none" stroke="#8B2358" stroke-width="8" stroke-linejoin="miter" stroke-miterlimit="10"/>
<rect x="746.1" y="2691.82" width="25" height="25" fill="none" stroke="#8B2358" stroke-width="8" stroke-linejoin="miter" stroke-miterlimit="10"/>
<rect x="817.55" y="2753.99" width="25" height="25" fill="none" stroke="#8B2358" stroke-width="8" stroke-linejoin="miter" stroke-miterlimit="10"/>
<rect x="889" y="2753.99" width="25" height="25" fill="none" stroke="#8B2358" stroke-width="8" stroke-linejoin="miter" stroke-miterlimit="10"/>
<rect x="960.45" y="2702.98" width="25" height="25" fill="none" stroke="#8B2358" stroke-width="8" stroke-linejoin="miter" stroke-miterlimit="10"/>
<rect x="1031.9" y="2789.06" width="25" height="25" fill="none" stroke="#8B2358" stroke-width="8" stroke-linejoin="miter" stroke-miterlimit="10"/>
<rect x="1103.35" y="2787.46" width="25" height="25" fill="none" stroke="#8B2358" stroke-width="8" stroke-linejoin="miter" stroke-miterlimit="10"/>
<rect x="1174.8" y="2751.2" width="25" height="25" fill="none" stroke="#8B2358" stroke-width="8" stroke-linejoin="miter" stroke-miterlimit="10"/>
<rect x="1246.25" y="2820.54" width="25" height="25" fill="none" stroke="#8B2358" stroke-width="8" stroke-linejoin="miter" stroke-miterlimit="10"/>
<rect x="1317.7" y="2760.37" width="25" height="25" fill="none" stroke="#8B2358" stroke-width="8" stroke-linejoin="miter" stroke-miterlimit="10"/>
<rect x="1389.15" y="2785.07" width="25" height="25" fill="none" stroke="#8B2358" stroke-width="8" stroke-linejoin="miter" stroke-miterlimit="10"/>
<rect x="1460.6" y="2757.97" width="25" height="25" fill="none" stroke="#8B2358" stroke-width="8" stroke-linejoin="miter" stroke-miterlimit="10"/>
<rect x="1532.05" y="2810.98" width="25" height="25" fill="none" stroke="#8B2358" stroke-width="8" stroke-linejoin="miter" stroke-miterlimit="10"/>
<rect x="1603.5" y="2790.25" width="25" height="25" fill="none" stroke="#8B2358" stroke-width="8" stroke-linejoin="miter" stroke-miterlimit="10"/>
</g>
<g>
<polyline points="187,2549.71 258.45,2632.2 329.9,2578.4 401.35,2681.61 472.8,2738.59 544.25,2773.26 615.7,2801.96 687.15,2840.21 758.6,2866.51 830.05,2887.04 901.5,2905.97 972.95,2925.29 1044.4,2942.63 1115.85,2966.94 1187.3,2991.64 1258.75,3002 1330.2,3031.89 1401.65,3049.82 1473.1,3062.58 1544.55,3085.29 1616,3107.21" fill="none" stroke="#F3A22F" stroke-width="8" stroke-linejoin="round" stroke-linecap="butt"/>
<path d="M187 2528.41L203.2 2549.71L187 2571.01L170.8 2549.71Z" fill="none" stroke="#F3A22F" stroke-width="8" stroke-linejoin="miter" stroke-miterlimit="10"/>
<path d="M258.45 2610.9L274.65 2632.2L258.45 2653.5L242.25 2632.2Z" fill="none" stroke="#F3A22F" stroke-width="8" stroke-linejoin="miter" stroke-miterlimit="10"/>
<path d="M329.9 2557.1L346.1 2578.4L329.9 2599.7L313.7 2578.4Z" fill="none" stroke="#F3A22F" stroke-width="8" stroke-linejoin="miter" stroke-miterlimit="10"/>
<path d="M401.35 2660.31L417.55 2681.61L401.35 2702.91L385.15 2681.61Z" fill="none" stroke="#F3A22F" stroke-width="8" stroke-linejoin="miter" stroke-miterlimit="10"/>
<path d="M472.8 2717.29L489 2738.59L472.8 2759.89L456.6 2738.59Z" fill="none" stroke="#F3A22F" stroke-width="8" stroke-linejoin="miter" stroke-miterlimit="10"/>
<path d="M544.25 2751.96L560.45 2773.26L544.25 2794.56L528.05 2773.26Z" fill="none" stroke="#F3A22F" stroke-width="8" stroke-linejoin="miter" stroke-miterlimit="10"/>
<path d="M615.7 2780.66L631.9 2801.96L615.7 2823.26L599.5 2801.96Z" fill="none" stroke="#F3A22F" stroke-width="8" stroke-linejoin="miter" stroke-miterlimit="10"/>
<path d="M687.15 2818.91L703.35 2840.21L687.15 2861.51L670.95 2840.21Z" fill="none" stroke="#F3A22F" stroke-width="8" stroke-linejoin="miter" stroke-miterlimit="10"/>
<path d="M758.6 2845.21L774.8 2866.51L758.6 2887.81L742.4 2866.51Z" fill="none" stroke="#F3A22F" stroke-width="8" stroke-linejoin="miter" stroke-miterlimit="10"/>
<path d="M830.05 2865.74L846.25 2887.04L830.05 2908.34L813.85 2887.04Z" fill="none" stroke="#F3A22F" stroke-width="8" stroke-linejoin="miter" stroke-miterlimit="10"/>
<path d="M901.5 2884.66L917.7 2905.97L901.5 2927.27L885.3 2905.97Z" fill="none" stroke="#F3A22F" stroke-width="8" stroke-linejoin="miter" stroke-miterlimit="10"/>
<path d="M972.95 2903.99L989.15 2925.29L972.95 2946.59L956.75 2925.29Z" fill="none" stroke="#F3A22F" stroke-width="8" stroke-linejoin="miter" stroke-miterlimit="10"/>
<path d="M1044.4 2921.33L1060.6 2942.63L1044.4 2963.93L1028.2 2942.63Z" fill="none" stroke="#F3A22F" stroke-width="8" stroke-linejoin="miter" stroke-miterlimit="10"/>
<path d="M1115.85 2945.64L1132.05 2966.94L1115.85 2988.24L1099.65 2966.94Z" fill="none" stroke="#F3A22F" stroke-width="8" stroke-linejoin="miter" stroke-miterlimit="10"/>
<path d="M1187.3 2970.34L1203.5 2991.64L1187.3 3012.94L1171.1 2991.64Z" fill="none" stroke="#F3A22F" stroke-width="8" stroke-linejoin="miter" stroke-miterlimit="10"/>
<path d="M1258.75 2980.7L1274.95 3002L1258.75 3023.3L1242.55 3002Z" fill="none" stroke="#F3A22F" stroke-width="8" stroke-linejoin="miter" stroke-miterlimit="10"/>
<path d="M1330.2 3010.59L1346.4 3031.89L1330.2 3053.19L1314 3031.89Z" fill="none" stroke="#F3A22F" stroke-width="8" stroke-linejoin="miter" stroke-miterlimit="10"/>
<path d="M1401.65 3028.52L1417.85 3049.82L1401.65 3071.12L1385.45 3049.82Z" fill="none" stroke="#F3A22F" stroke-width="8" stroke-linejoin="miter" stroke-miterlimit="10"/>
<path d="M1473.1 3041.28L1489.3 3062.58L1473.1 3083.88L1456.9 3062.58Z" fill="none" stroke="#F3A22F" stroke-width="8" stroke-linejoin="miter" stroke-miterlimit="10"/>
<path d="M1544.55 3063.99L1560.75 3085.29L1544.55 3106.59L1528.35 3085.29Z" fill="none" stroke="#F3A22F" stroke-width="8" stroke-linejoin="miter" stroke-miterlimit="10"/>
<path d="M1616 3085.91L1632.2 3107.21L1616 3128.51L1599.8 3107.21Z" fill="none" stroke="#F3A22F" stroke-width="8" stroke-linejoin="miter" stroke-miterlimit="10"/>
</g>
<g>
<polyline points="187,2593.94 258.45,2710.7 329.9,2691.37 401.35,2776.45 472.8,2937.45 544.25,2895.6 615.7,2970.52 687.15,2993.63 758.6,3017.55 830.05,3031.49 901.5,3066.56 972.95,3081.7 1044.4,3102.03 1115.85,3126.34 1187.3,3139.09 1258.75,3160.41 1330.2,3180.93 1401.65,3199.26 1473.1,3219.19 1544.55,3236.72 1616,3259.43" fill="none" stroke="#D95319" stroke-width="8" stroke-linejoin="round" stroke-linecap="butt"/>
<circle cx="187" cy="2593.94" r="15.9" fill="none" stroke="#D95319" stroke-width="8" stroke-linejoin="miter" stroke-miterlimit="10"/>
<circle cx="258.45" cy="2710.7" r="15.9" fill="none" stroke="#D95319" stroke-width="8" stroke-linejoin="miter" stroke-miterlimit="10"/>
<circle cx="329.9" cy="2691.37" r="15.9" fill="none" stroke="#D95319" stroke-width="8" stroke-linejoin="miter" stroke-miterlimit="10"/>
<circle cx="401.35" cy="2776.45" r="15.9" fill="none" stroke="#D95319" stroke-width="8" stroke-linejoin="miter" stroke-miterlimit="10"/>
<circle cx="472.8" cy="2937.45" r="15.9" fill="none" stroke="#D95319" stroke-width="8" stroke-linejoin="miter" stroke-miterlimit="10"/>
<circle cx="544.25" cy="2895.6" r="15.9" fill="none" stroke="#D95319" stroke-width="8" stroke-linejoin="miter" stroke-miterlimit="10"/>
<circle cx="615.7" cy="2970.52" r="15.9" fill="none" stroke="#D95319" stroke-width="8" stroke-linejoin="miter" stroke-miterlimit="10"/>
<circle cx="687.15" cy="2993.63" r="15.9" fill="none" stroke="#D95319" stroke-width="8" stroke-linejoin="miter" stroke-miterlimit="10"/>
<circle cx="758.6" cy="3017.55" r="15.9" fill="none" stroke="#D95319" stroke-width="8" stroke-linejoin="miter" stroke-miterlimit="10"/>
<circle cx="830.05" cy="3031.49" r="15.9" fill="none" stroke="#D95319" stroke-width="8" stroke-linejoin="miter" stroke-miterlimit="10"/>
<circle cx="901.5" cy="3066.56" r="15.9" fill="none" stroke="#D95319" stroke-width="8" stroke-linejoin="miter" stroke-miterlimit="10"/>
<circle cx="972.95" cy="3081.7" r="15.9" fill="none" stroke="#D95319" stroke-width="8" stroke-linejoin="miter" stroke-miterlimit="10"/>
<circle cx="1044.4" cy="3102.03" r="15.9" fill="none" stroke="#D95319" stroke-width="8" stroke-linejoin="miter" stroke-miterlimit="10"/>
<circle cx="1115.85" cy="3126.34" r="15.9" fill="none" stroke="#D95319" stroke-width="8" stroke-linejoin="miter" stroke-miterlimit="10"/>
<circle cx="1187.3" cy="3139.09" r="15.9" fill="none" stroke="#D95319" stroke-width="8" stroke-linejoin="miter" stroke-miterlimit="10"/>
<circle cx="1258.75" cy="3160.41" r="15.9" fill="none" stroke="#D95319" stroke-width="8" stroke-linejoin="miter" stroke-miterlimit="10"/>
<circle cx="1330.2" cy="3180.93" r="15.9" fill="none" stroke="#D95319" stroke-width="8" stroke-linejoin="miter" stroke-miterlimit="10"/>
<circle cx="1401.65" cy="3199.26" r="15.9" fill="none" stroke="#D95319" stroke-width="8" stroke-linejoin="miter" stroke-miterlimit="10"/>
<circle cx="1473.1" cy="3219.19" r="15.9" fill="none" stroke="#D95319" stroke-width="8" stroke-linejoin="miter" stroke-miterlimit="10"/>
<circle cx="1544.55" cy="3236.72" r="15.9" fill="none" stroke="#D95319" stroke-width="8" stroke-linejoin="miter" stroke-miterlimit="10"/>
<circle cx="1616" cy="3259.43" r="15.9" fill="none" stroke="#D95319" stroke-width="8" stroke-linejoin="miter" stroke-miterlimit="10"/>
</g>
<g>
<rect x="1155.3" y="2511.1" width="417.8" height="239.2" fill="#fff" stroke="#222222" stroke-width="2.7"/>
<path d="M1172.8 2545.8H1336.9" stroke="#77AC30" stroke-width="8" fill="none"/>
<path d="M1255.2 2524.1L1273.85 2556.4L1236.55 2556.4Z" fill="none" stroke="#77AC30" stroke-width="8" stroke-linejoin="miter" stroke-miterlimit="10"/>
<text class="g" x="1350.4" y="2562.9">IST</text>
<path d="M1172.8 2602.3H1336.9" stroke="#8B2358" stroke-width="8" fill="none"/>
<rect x="1242.7" y="2589.8" width="25" height="25" fill="none" stroke="#8B2358" stroke-width="8" stroke-linejoin="miter" stroke-miterlimit="10"/>
<text class="g" x="1350.4" y="2619.4">MUSIC</text>
<path d="M1172.8 2658.8H1336.9" stroke="#F3A22F" stroke-width="8" fill="none"/>
<path d="M1255.2 2637.5L1271.4 2658.8L1255.2 2680.1L1239 2658.8Z" fill="none" stroke="#F3A22F" stroke-width="8" stroke-linejoin="miter" stroke-miterlimit="10"/>
<text class="g" x="1350.4" y="2675.9">ANM</text>
<path d="M1172.8 2714.9H1336.9" stroke="#D95319" stroke-width="8" fill="none"/>
<circle cx="1255.2" cy="2714.9" r="15.9" fill="none" stroke="#D95319" stroke-width="8" stroke-linejoin="miter" stroke-miterlimit="10"/>
<text class="g" x="1350.4" y="2732">CS-ADCG</text>
</g>
<text class="c"><tspan x="797.8" y="3527.5" font-size="77.6px" font-weight="normal" textLength="23.87" lengthAdjust="spacingAndGlyphs">(</tspan><tspan x="821.47" y="3528.15" font-size="75.21px" font-weight="bold" textLength="32.38" lengthAdjust="spacingAndGlyphs">c</tspan><tspan x="854.43" y="3527.5" font-size="77.6px" font-weight="normal" textLength="23.74" lengthAdjust="spacingAndGlyphs">)</tspan></text>
</g>
</svg></body></html>
